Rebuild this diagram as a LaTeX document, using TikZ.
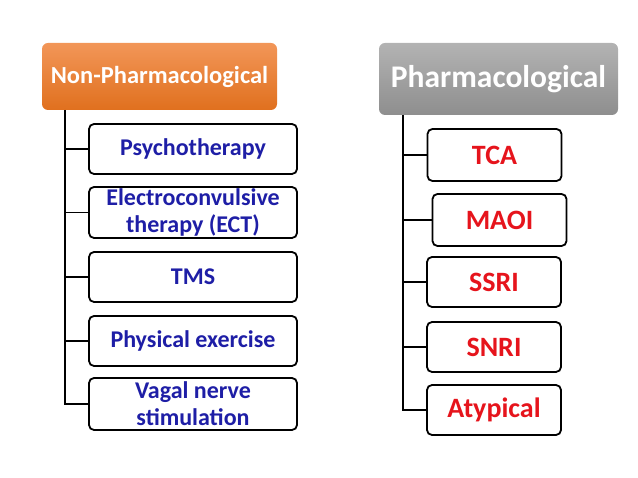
\documentclass[tikz,border=0pt]{standalone}
\usepackage{fontspec}
\setmainfont{Carlito}
\definecolor{itemblue}{HTML}{1E1EA6}
\definecolor{itemred}{HTML}{E6141C}
\definecolor{orgtop}{HTML}{F29658}
\definecolor{orgbot}{HTML}{E0701E}
\definecolor{grytop}{HTML}{B3B3B3}
\definecolor{grybot}{HTML}{8E8E8E}
\begin{document}
\begin{tikzpicture}[x=1pt,y=-1pt,
  hdr/.style={rounded corners=6pt, inner sep=0pt, text=white, font=\bfseries},
  item/.style={draw=black, line width=1.8pt, rounded corners=5pt, fill=white, inner sep=0pt, align=center, font=\bfseries\fontsize{24}{27}\selectfont},
  litem/.style={item, minimum width=208pt, minimum height=50pt, text=itemblue},
  ritem/.style={item, minimum width=134pt, minimum height=50pt, text=itemred, font=\bfseries\fontsize{28}{32}\selectfont},
  conn/.style={draw=black, line width=1.8pt}
]
\useasboundingbox (0,0) rectangle (638,478);
\node[hdr, minimum width=235pt, minimum height=67pt, top color=orgtop, bottom color=orgbot, font=\bfseries\fontsize{24.5}{28}\selectfont] (nph) at (159.5,76.5) {Non-Pharmacological};
\node[hdr, minimum width=239pt, minimum height=72pt, top color=grytop, bottom color=grybot, font=\bfseries\fontsize{31.5}{36}\selectfont] (ph) at (498.5,79) {Pharmacological};

\node[litem] (psy) at (193,149) {Psychotherapy};
\node[litem, minimum height=51pt] (ect) at (193,212.5) {Electroconvulsive\\therapy (ECT)};
\node[litem] (tms) at (193,277) {TMS};
\node[litem] (phy) at (193,341) {Physical exercise};
\node[litem, minimum height=52pt] (vag) at (193,404) {Vagal nerve\\stimulation};

\node[ritem, minimum height=52pt] (tca) at (494.5,155) {TCA};
\node[ritem, minimum height=52pt] (mao) at (499.5,220) {MAOI};
\node[ritem] (ssr) at (494,282) {SSRI};
\node[ritem] (snr) at (494,347) {SNRI};
\node[ritem] (aty) at (494,410) {Atypical};

\coordinate (lt) at (65,110);
\coordinate (rt) at (403,115);
\draw[conn] (lt) |- (vag.west);
\foreach \n in {psy,ect,tms,phy} \draw[conn] (lt |- \n.west) -- (\n.west);
\draw[conn] (rt) |- (aty.west);
\foreach \n in {tca,mao,ssr,snr} \draw[conn] (rt |- \n.west) -- (\n.west);
\end{tikzpicture}
\end{document}
